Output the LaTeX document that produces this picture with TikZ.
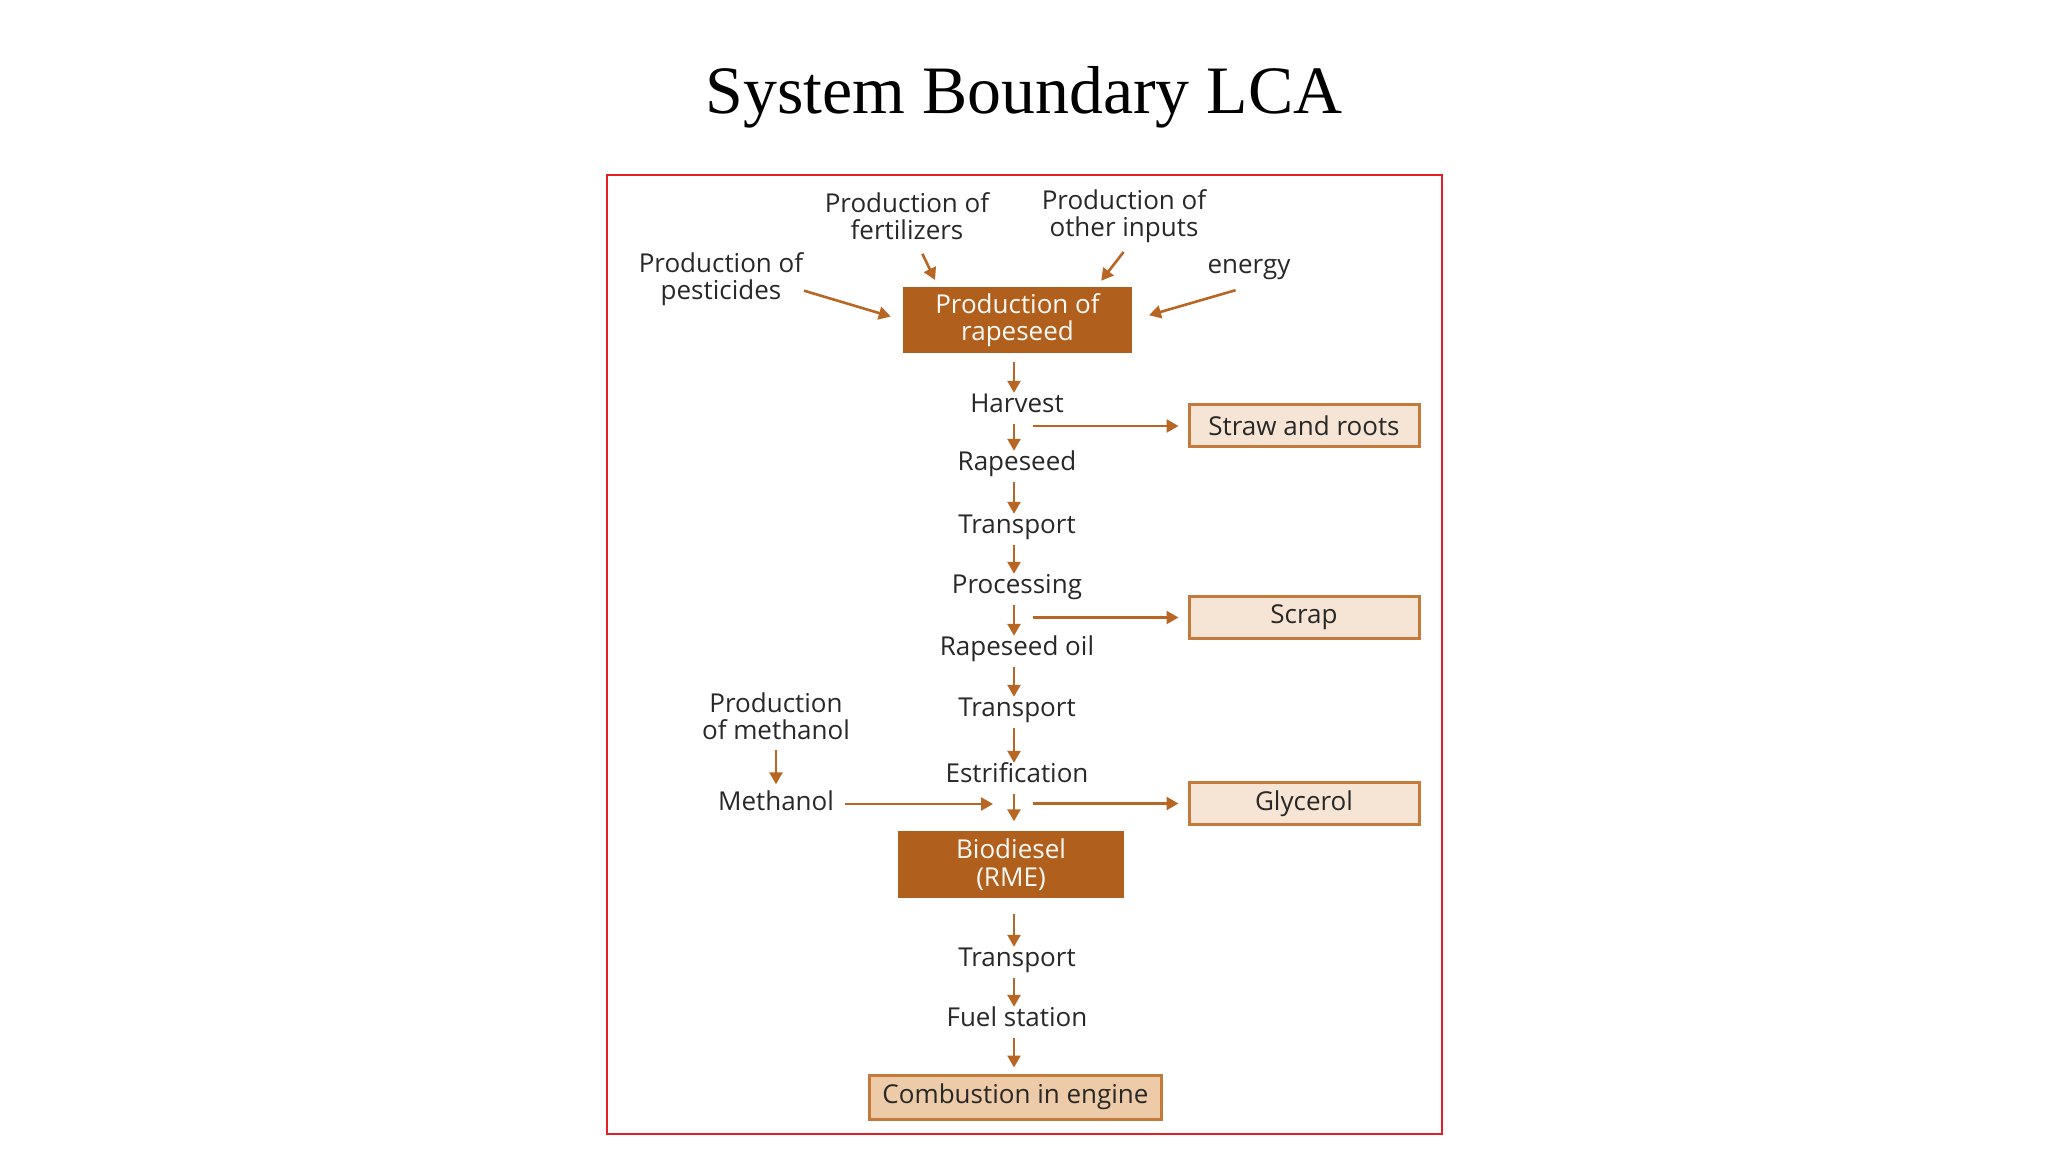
\documentclass[tikz,border=0pt]{standalone}
\usepackage{fontspec}
\setmainfont{Liberation Serif}
\newfontfamily\diafont{Open Sans}
\usetikzlibrary{arrows.meta}
\definecolor{rapebrown}{RGB}{176,96,28}
\definecolor{arrowbrown}{RGB}{184,102,36}
\definecolor{outfill}{RGB}{246,229,213}
\definecolor{engfill}{RGB}{237,203,168}
\definecolor{outline}{RGB}{196,122,58}
\definecolor{framered}{RGB}{228,30,36}
\definecolor{txtgray}{RGB}{40,40,40}
\begin{document}
\begin{tikzpicture}[
        stage/.style={font=\diafont\fontsize{7.4}{7.6}\selectfont, text=txtgray, inner sep=0pt, text height=0.19cm, text depth=0.06cm},
        srclbl/.style={font=\diafont\fontsize{7.4}{7.7}\selectfont, text=txtgray, inner sep=0pt, align=center},
        mainbox/.style={fill=rapebrown, text=white!96!rapebrown, font=\diafont\fontsize{7.4}{7.8}\selectfont, align=center, inner sep=0pt, minimum width=2.29cm, minimum height=0.66cm},
        outbox/.style={draw=outline, line width=0.03cm, fill=outfill, text=txtgray, font=\diafont\fontsize{7.4}{7.6}\selectfont, inner sep=0pt, minimum width=2.3cm, minimum height=0.42cm},
        flow/.style={draw=arrowbrown, line width=0.026cm, -{Triangle[length=0.12cm,width=0.13cm]}, shorten <=0.05cm}
    ]
        \useasboundingbox (0,0) rectangle (20.48,-11.52) ;
        \node[anchor=base, font=\fontsize{19.3}{23}\selectfont] (title) at (10.24,-1.14) {System Boundary LCA} ;
        \draw[framered, line width=0.02cm] (6.07,-1.75) rectangle (14.42,-11.34) ;
        \coordinate (axis) at (10.14,0) ;
        % inputs
        \node[srclbl] (fert) at (9.07,-2.16) {Production of\\fertilizers} ;
        \node[srclbl] (other) at (11.24,-2.16) {Production of\\other inputs} ;
        \node[srclbl] (pest) at (7.21,-2.79) {Production of\\pesticides} ;
        \node[stage] (energy) at (12.49,-2.67) {energy} ;
        \node[mainbox] (rape) at (10.175,-3.20) {Production of\\rapeseed} ;
        % main chain
        \node[stage] (harvest) at (10.17,-4.06) {Harvest} ;
        \node[stage] (seed) at (10.17,-4.64) {Rapeseed} ;
        \node[stage] (trans1) at (10.17,-5.27) {Transport} ;
        \node[stage] (proc) at (10.17,-5.87) {Processing} ;
        \node[stage] (oil) at (10.17,-6.49) {Rapeseed oil} ;
        \node[stage] (trans2) at (10.17,-7.10) {Transport} ;
        \node[stage] (estr) at (10.17,-7.76) {Estrification} ;
        \node[mainbox, minimum width=2.26cm, minimum height=0.67cm] (bio) at (10.11,-8.645) {Biodiesel\\(RME)} ;
        \node[stage] (trans3) at (10.17,-9.60) {Transport} ;
        \node[stage] (fuel) at (10.17,-10.20) {Fuel station} ;
        \node[outbox, fill=engfill, minimum width=2.92cm, minimum height=0.44cm] (engine) at (10.155,-10.97) {Combustion in engine} ;
        % outputs
        \node[outbox] (straw) at (13.04,-4.26) {Straw and roots} ;
        \node[outbox] (scrap) at (13.04,-6.175) {Scrap} ;
        \node[outbox] (glyc) at (13.04,-8.035) {Glycerol} ;
        % methanol
        \node[srclbl] (prodmeth) at (7.76,-7.16) {Production\\of methanol} ;
        \node[stage] (meth) at (7.76,-8.04) {Methanol} ;
        % arrows
        \draw[flow, shorten <=0cm, shorten >=0.12cm] (pest.-8) -- (rape.west) ;
        \draw[flow, shorten <=0.15cm, shorten >=0.07cm] (fert.-70) -- (rape.157) ;
        \draw[flow, shorten <=0.11cm, shorten >=0.07cm] (other.-77) -- (rape.23) ;
        \draw[flow, shorten <=0.36cm, shorten >=0.17cm] (energy.-32) -- (rape.east) ;
        \draw[flow, shorten <=0.08cm] (rape.south -| axis) -- (harvest.north -| axis) ;
        \foreach \a/\b in {harvest/seed, seed/trans1, trans1/proc, proc/oil, oil/trans2, trans2/estr, trans3/fuel}
            \draw[flow] (\a.south -| axis) -- (\b.north -| axis) ;
        \draw[flow, shorten >=0.09cm] (estr.south -| axis) -- (bio.north -| axis) ;
        \draw[flow, shorten <=0.15cm] (bio.south -| axis) -- (trans3.north -| axis) ;
        \draw[flow, shorten >=0.06cm] (fuel.south -| axis) -- (engine.north -| axis) ;
        \draw[flow, shorten <=0.19cm, shorten >=0.09cm] (axis |- straw) -- (straw) ;
        \draw[flow, shorten <=0.19cm, shorten >=0.09cm] (axis |- scrap) -- (scrap) ;
        \draw[flow, shorten <=0.19cm, shorten >=0.09cm] (axis |- glyc) -- (glyc) ;
        \draw[flow, shorten <=0.10cm, shorten >=0.065cm] (prodmeth) -- (meth) ;
        \draw[flow, shorten <=0.10cm, shorten >=0.21cm] (meth) -- (axis |- meth) ;
    \end{tikzpicture}
\end{document}
